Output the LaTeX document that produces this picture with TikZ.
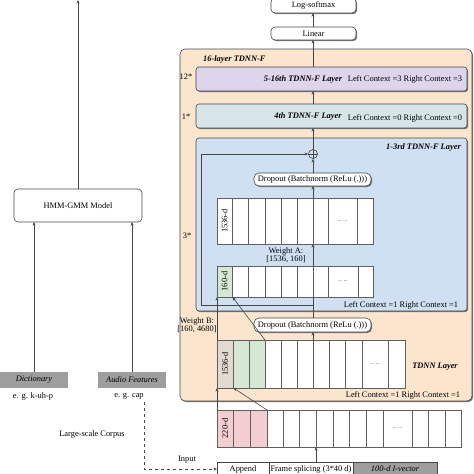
\documentclass[tikz,border=0pt]{standalone}
\usepackage{fontspec}
\setmainfont{Liberation Serif}
\usetikzlibrary{shadows,arrows.meta,calc}
\definecolor{lineC}{RGB}{70,70,70}
\definecolor{rowC}{RGB}{95,95,95}
\definecolor{peach}{RGB}{252,229,205}
\definecolor{lav}{RGB}{221,213,235}
\definecolor{teal}{RGB}{214,229,231}
\definecolor{sky}{RGB}{206,224,242}
\definecolor{mint}{RGB}{213,232,211}
\definecolor{rose}{RGB}{243,205,208}
\definecolor{tan}{RGB}{226,218,209}
\definecolor{greyB}{RGB}{158,158,158}
\newcommand{\fs}{\fontsize{8.4}{10}\selectfont}
\begin{document}
\begin{tikzpicture}[x=1pt,y=-1pt,
  box/.style={draw=lineC, line width=0.6pt, inner sep=0pt, outer sep=0pt, anchor=north west, font=\fs},
  shad/.style={drop shadow={shadow xshift=1.1pt, shadow yshift=-1.1pt, fill=black!55, opacity=1}},
  rowbox/.style={draw=rowC, line width=0.8pt, fill=white, inner sep=0pt, outer sep=0pt, anchor=north west},
  grey box/.style={box, draw=none, fill=greyB, font=\fs\itshape},
  lbl/.style={font=\fs, inner sep=0pt},
  hdr/.style={font=\fs\bfseries\itshape, inner sep=0pt},
  vlab/.style={font=\fs, rotate=90, inner sep=0pt},
  dots/.style={font=\fontsize{5}{6}\selectfont, inner sep=0pt},
  arr/.style={-{Stealth[length=3.6pt,width=3pt]}, line width=0.6pt, draw=lineC},
  divider/.style={draw=rowC, line width=0.8pt}
]
\useasboundingbox (0,0) rectangle (474,474);
\clip (0,0) rectangle (474,474);

% ---------- left part ----------
\node[box, rounded corners=4pt, fill=white, minimum width=128pt, minimum height=33pt] (hmm) at (14,189) {HMM-GMM Model};
\coordinate (topL) at (78,0);
\node[grey box, minimum width=68pt, minimum height=16pt] (dict) at (0,372) {Dictionary};
\node[grey box, minimum width=68pt, minimum height=16pt] (audio) at (98,372) {Audio Features};
\node[lbl] (eg1) at (33,396.5) {e. g. k-uh-p};
\node[lbl] (eg2) at (129,396.5) {e. g. cap};
\node[lbl] (corpus) at (92,434) {Large-scale Corpus};

\draw[arr] (hmm.north -| topL) -- (topL);
\draw[arr] (dict.north) -- (dict.north |- hmm.south);
\draw[arr] (audio.north) -- (audio.north |- hmm.south);

% ---------- top boxes ----------
\coordinate (tx) at (313,0);
\node[box, rounded corners=4pt, fill=white, shad, minimum width=85pt, minimum height=15pt] (logsm) at (271,-2) {Log-softmax};
\node[box, rounded corners=4pt, fill=white, shad, minimum width=85pt, minimum height=13pt] (linear) at (271,27) {Linear};

% ---------- orange container ----------
\node[box, rounded corners=5pt, fill=peach, shad, minimum width=292pt, minimum height=352pt] (tdnnf) at (180,49) {};
\node[hdr, anchor=west] (title) at (203,59) {16-layer TDNN-F};
\node[lbl] (n12) at (186,77) {12*};
\node[lbl] (n1) at (186,117) {1*};
\node[lbl] (n3) at (187,236) {3*};

\node[box, rounded corners=3pt, fill=lav, shad, minimum width=271pt, minimum height=24pt] (L516) at (196,67) {};
\node[hdr] (L516t) at (303,79) {5-16th TDNN-F Layer};
\node[lbl] (L516c) at (405,79) {Left Context =3 Right Context =3};

\node[box, rounded corners=3pt, fill=teal, shad, minimum width=271pt, minimum height=24pt] (L4) at (196,104) {};
\node[hdr] (L4t) at (308,116) {4th TDNN-F Layer};
\node[lbl] (L4c) at (405,118.5) {Left Context =0 Right Context =0};

\node[box, rounded corners=3pt, fill=sky, shad, minimum width=271pt, minimum height=173pt] (L13) at (196,138) {};
\node[hdr, anchor=east] (L13t) at (461,147) {1-3rd TDNN-F Layer};

\node[circle, draw=lineC, line width=0.6pt, fill=sky, minimum size=9pt, inner sep=0pt] (plus) at (313,154) {};
\draw[line width=0.6pt, draw=lineC] (plus.north) -- (plus.south) (plus.west) -- (plus.east);

\node[box, rounded corners=5pt, fill=white, shad, minimum width=117pt, minimum height=13pt] (drop1) at (254,173) {Dropout (Batchnorm (ReLu (.)))};

% row 1536-d (inside)
\node[rowbox, minimum width=156pt, minimum height=46pt] (rowA) at (217,198) {};
\foreach \xx in {232,248,265,281,297,313,328,357} \draw[divider] (\xx,198) -- (\xx,244);
\node[vlab] (rowAl) at (224.5,221) {1536-d};
\node[dots] (rowAd) at (342.5,221) {... ...};

\node[lbl] (wA1) at (286,251) {Weight A:};
\node[lbl] (wA2) at (286,259.5) {[1536, 160]};

% row 160-d
\node[rowbox, minimum width=156pt, minimum height=31pt] (rowB) at (217,266) {};
\fill[mint] (217.4,266.4) rectangle (232,296.6);
\foreach \xx in {232,248,265,281,297,313,328,358} \draw[divider] (\xx,266) -- (\xx,297);
\draw[draw=rowC, line width=0.8pt] (rowB.north west) rectangle (rowB.south east);
\node[vlab] (rowBl) at (224.5,281.5) {160-d};
\node[dots] (rowBd) at (343,281.5) {... ...};

\node[lbl] (L13c) at (401,305) {Left Context =1 Right Context =1};

% ---------- TDNN layer ----------
\node[lbl] (wB1) at (197,321) {Weight B:};
\node[lbl] (wB2) at (197,329.5) {[160, 4680]};
\node[box, rounded corners=5pt, fill=white, shad, minimum width=117pt, minimum height=14pt] (drop2) at (254,318) {Dropout (Batchnorm (ReLu (.)))};

\node[rowbox, minimum width=188pt, minimum height=48pt] (rowC) at (217,340) {};
\fill[tan] (217.4,340.4) rectangle (233,387.6);
\fill[mint] (233,340.4) rectangle (265,387.6);
\foreach \xx in {233,249,265,281,297,313,329,345,362,388} \draw[divider] (\xx,340) -- (\xx,388);
\draw[draw=rowC, line width=0.8pt] (rowC.north west) rectangle (rowC.south east);
\node[vlab] (rowCl) at (225,364) {1536-d};
\node[dots] (rowCd) at (375,364) {... ...};
\node[hdr] (tdnnT) at (435,367) {TDNN Layer};
\node[lbl] (tdnnC) at (403,395) {Left Context =1 Right Context =1};

% ---------- input row 220-d ----------
\node[rowbox, minimum width=244pt, minimum height=37pt] (rowD) at (217,410) {};
\fill[rose] (217.4,410.4) rectangle (267,446.6);
\foreach \xx in {233,250,267,283,299,316,333,349,366,383,412,428,445} \draw[divider] (\xx,410) -- (\xx,447);
\draw[draw=rowC, line width=0.8pt] (rowD.north west) rectangle (rowD.south east);
\node[vlab] (rowDl) at (225,428.5) {220-d};
\node[dots] (rowDd) at (397.5,428.5) {... ...};

% ---------- input boxes ----------
\node[box, fill=white, minimum width=52pt, minimum height=13pt] (append) at (217,462.5) {Append};
\node[box, fill=white, minimum width=84pt, minimum height=13pt] (frame) at (269,462.5) {Frame splicing (3*40 d)};
\node[box, fill=greyB, font=\fs\itshape, minimum width=84pt, minimum height=13pt] (ivec) at (353,462.5) {100-d I-vector};
\node[lbl] (inputL) at (187,460) {Input};

% ---------- connectors ----------
\draw[arr] (linear.north -| tx) -- (logsm.south -| tx);
\draw[arr] (L516.north -| tx) -- (linear.south -| tx);
\draw[arr] (L4.north -| tx) -- (L516.south -| tx);
\draw[arr] (plus.north) -- (L4.south -| tx);
\draw[arr] (drop1.north -| tx) -- (plus.south);
\draw[arr] (rowA.north -| tx) -- (drop1.south -| tx);
\draw[arr] (rowB.north -| tx) -- (rowA.south -| tx);

\coordinate (byA) at (313,305);
\coordinate (byB) at (201,305);
\coordinate (byC) at (201,154);
\draw[line width=0.6pt, draw=lineC] (drop2.north -| tx) -- (rowB.south -| tx);
\draw[arr] (byA) -- (byB) -- (byC) -- (plus.west);

\draw[arr] (rowC.north -| tx) -- (drop2.south -| tx);
\draw[arr] (rowC.north west) -- (rowB.south west);
\draw[arr] ($(rowC.north west)+(48,0)$) -- ($(rowB.south west)+(15.5,0)$);
\draw[arr] (rowD.north west) -- (rowC.south west);
\draw[arr] ($(rowD.north west)+(50,0)$) -- ($(rowC.south west)+(16.5,0)$);
\coordinate (fx) at (316,0);
\draw[arr] (frame.north -| fx) -- (rowD.south -| fx);

\coordinate (dsS) at (144,402);
\draw[arr, dashed] (dsS) |- (append.west);
\end{tikzpicture}
\end{document}
